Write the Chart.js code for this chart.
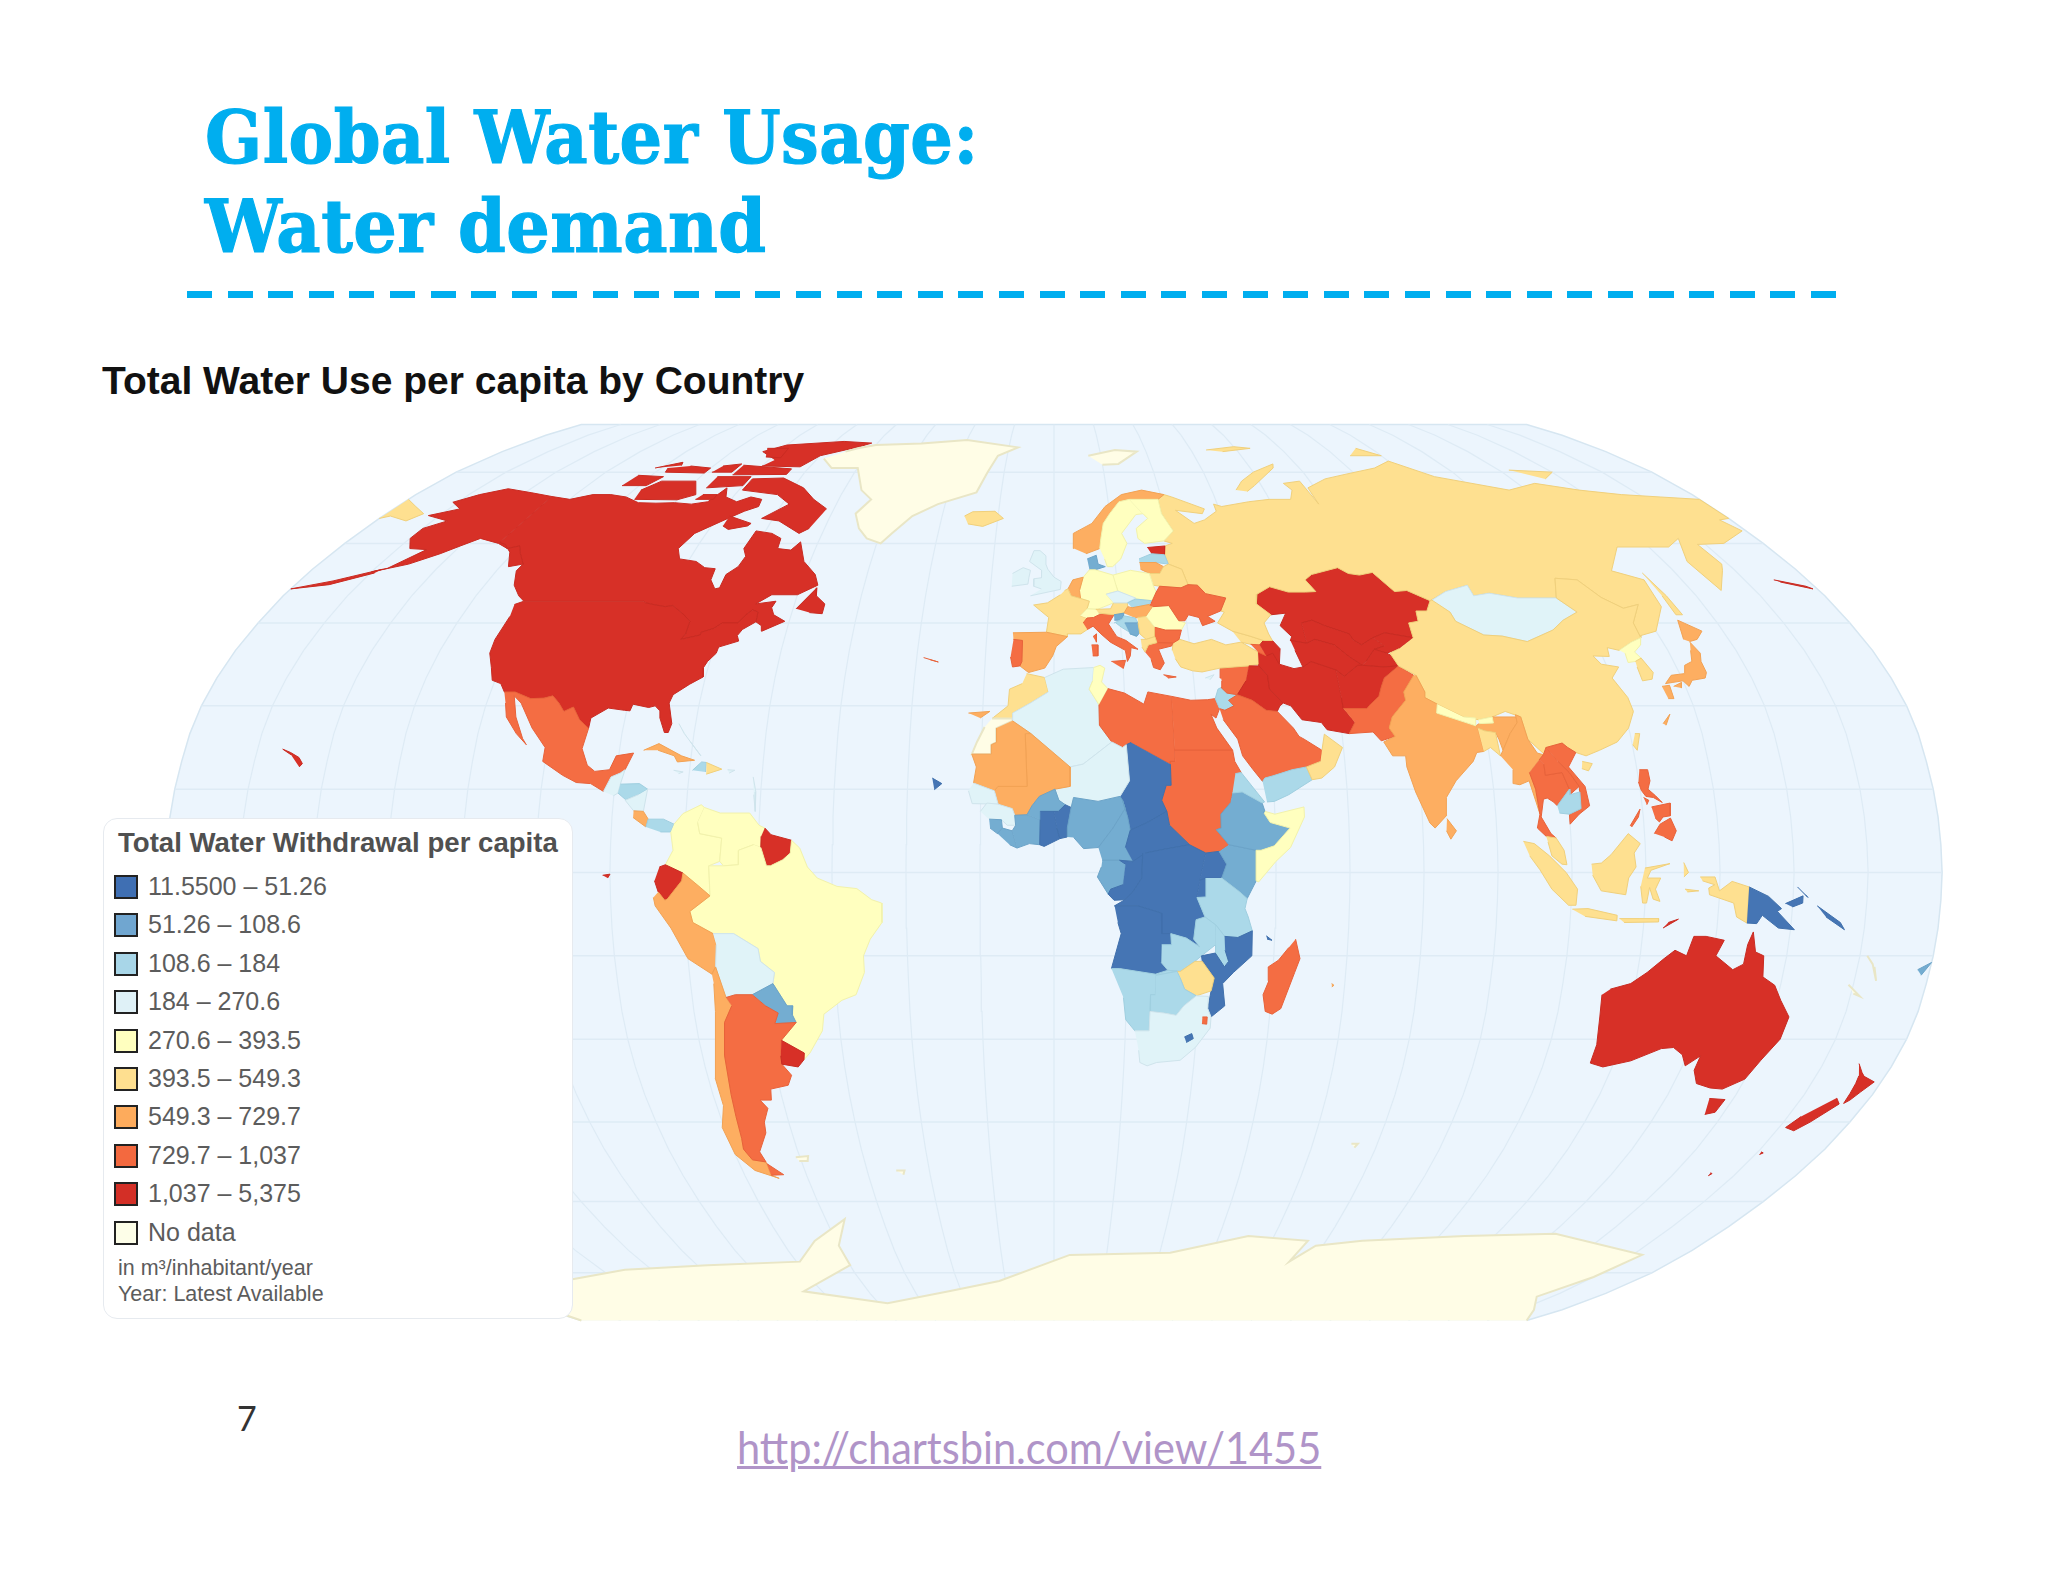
<!DOCTYPE html>
<html><head><meta charset="utf-8"><title>Global Water Usage</title>
<script src="https://cdn.jsdelivr.net/npm/chart.js@4"></script>
<style>
html,body{margin:0;padding:0;background:#fff;width:2048px;height:1582px;overflow:hidden}
.t{position:absolute;white-space:nowrap}
#h1,#h2{left:205px;font:bold 72px "DejaVu Serif";color:#00aeef;letter-spacing:.5px;-webkit-text-stroke:1.2px #00aeef;transform-origin:0 0}
#h1{top:95px;transform:scaleX(.93)}#h2{top:184px;transform:scaleX(.95)}
#dash{position:absolute;left:187px;top:291px;width:1652px;height:7px;background:repeating-linear-gradient(90deg,#00aeef 0 25px,transparent 25px 40.6px)}
#sub{left:102px;top:359px;font:bold 39px "Liberation Sans";color:#111}
#map{position:absolute;left:157px;top:420px}
#legend{position:absolute;left:103px;top:818px;width:470px;height:501px;background:#fff;border:1px solid #e6eaef;border-radius:14px;box-sizing:border-box;font-family:"Liberation Sans"}
#legend .lt{position:absolute;left:14px;top:8px;font:bold 27.6px "Liberation Sans";color:#505050;white-space:nowrap}
#legend .sw{position:absolute;left:10px;width:24px;height:24px;box-sizing:border-box;border:2px solid #222}
#legend .ll{position:absolute;left:44px;font-size:25px;color:#5c5c5c;white-space:nowrap}
#legend .fn{position:absolute;left:14px;font-size:21.5px;color:#5c5c5c;white-space:nowrap}
#page{left:237px;top:1397px;font:34px Lato;color:#333}
#link{left:737px;top:1421px;font:44px Lato;color:#b094c8;text-decoration:underline;text-decoration-thickness:3px;transform-origin:0 0;transform:scaleX(.943)}
</style></head><body>
<div class="t" id="h1">Global Water Usage:</div>
<div class="t" id="h2">Water demand</div>
<div id="dash"></div>
<div class="t" id="sub">Total Water Use per capita by Country</div>
<canvas id="map" width="1794" height="905"></canvas>
<div id="legend"></div>
<div class="t" id="page">7</div>
<div class="t" id="link">http://chartsbin.com/view/1455</div>
<script>
// Legend classes (m3/inhabitant/year)
const legendLabels=["11.5500 – 51.26","51.26 – 108.6","108.6 – 184","184 – 270.6","270.6 – 393.5","393.5 – 549.3","549.3 – 729.7","729.7 – 1,037","1,037 – 5,375","No data"];
const classColors=["#4575b4","#74add1","#abd9e9","#e0f3f8","#ffffbf","#fee090","#fdae61","#f46d43","#d73027","#fffde6"];
const classBorders=["#4070ac","#6ba3c8","#9fcfe0","#cfe4ec","#f2f2ac","#f0d07c","#f2a254","#e8623a","#c92b22","#e9e6c6"];
const legendSwatches=["#3f6fb3","#70a6d0","#a8d6e8","#dff1f7","#ffffbf","#fedf90","#fdab5c","#f3693f","#d32f26","#fdfee8"];
// Lon/lat outlines
const canada=[-123,49,-125,50,-128,52,-130.2,54.7,-130,56,-133,58,-135,59.5,-137.5,59,-141,60.2,-141,69.6,-135,69,-130,70,-125,70,-120,69.5,-115,68.3,-110,68.2,-105,68.3,-100,68,-96,68.5,-94,71.5,-92,69.5,-88,68.5,-85,69.5,-81.5,69,-81,67.5,-84,66.5,-87,65,-93,62,-94.5,59,-92.5,57,-88,56.5,-85,55.3,-82.3,55.1,-82,53,-80,51.3,-79,51.5,-79,54,-77,55.5,-76.5,57.5,-78,59,-77.5,62.5,-73,62,-70,61,-69.5,59,-66,58.7,-64.5,60.3,-61.5,56.5,-57.5,54,-56,52,-60,50.2,-66,50.2,-69,48.5,-64.5,49,-65,47.8,-64,46.5,-61,45.3,-65.5,43.5,-66,44.5,-67.5,45.2,-67.8,47,-69.2,47.4,-70.3,46.5,-71.5,45,-75,45,-76.5,44,-79,43.3,-79,42.8,-83,42,-82.4,43,-82.5,45.3,-84.5,46.5,-88,48.2,-89.6,48,-92,48.3,-94.6,48.7,-95.2,49];
const usa=[-124.7,48.4,-123,49,-95.2,49,-94.6,48.7,-92,48.3,-89.6,48,-88,48.2,-84.5,46.5,-82.5,45.3,-82.4,43,-83,42,-79,42.8,-79,43.3,-76.5,44,-75,45,-71.5,45,-70.3,46.5,-69.2,47.4,-67.8,47,-67.5,45.2,-70,43.8,-70.7,42.7,-70,41.7,-74,40.6,-74.1,39.5,-75.5,38,-76,36.9,-75.5,35.2,-78,33.9,-81,32,-81.4,30.5,-80,26.8,-80.4,25.2,-81.2,25.2,-82.7,27.8,-83,29.1,-84.2,30,-85.5,29.7,-89,30.3,-89.3,29.1,-90.5,29.2,-94,29.6,-97.2,27.8,-97.2,25.95,-99.5,27.5,-101.4,29.8,-103.2,29,-104.7,30.5,-106.5,31.8,-108.2,31.4,-111,31.3,-114.8,32.5,-117.1,32.5,-118.5,34,-120.6,34.6,-122,36.9,-123.8,39.5,-124.3,42,-124,46.2];
const alaska=[-141,69.6,-148,70.4,-156.5,71.3,-162,70,-166.5,68.4,-162,67,-168,65.6,-161,64.5,-165,63,-165,61,-162,59,-157.5,58.8,-162,55.2,-165,54.5,-158,56,-153,58,-150,59.5,-147,61,-141,60,-137.5,59,-135,59.5,-133,58,-130,56,-133,55.5,-136,58.3,-139,59.8,-141,60.2];
const aleutians=[-163,55,-172,52.8,-180,51.3,-172,52.1,-164,54.3];
const aleutiansWest=[172,53,178,51.8,179,51.3,173,52.6];
const hawaii=[-155.5,19,-155,19.6,-156,20.7,-158,21.6,-159.8,22.2,-157.8,21.2];
const newfoundland=[-59.3,47.6,-56,51.5,-55.5,50,-53,48.5,-53,46.7,-56,46.9];
const baffin=[-64,63,-66,62,-73,64.5,-78,65,-73,68,-78,70,-89,71,-89,73.5,-80,73.7,-72,71.5,-67,69,-62,67];
const victoriaIs=[-117,69,-105,68.9,-101,70,-105,73,-115,73,-118,71];
const banksIs=[-125,72,-118,72,-116,74,-124,74.3];
const ellesmere=[-90,76.5,-78,76.3,-75,79,-65,81.5,-62,82.6,-72,83.1,-90,82,-95,80,-88,78];
const axelHeiberg=[-95,81,-88,81,-87,78.5,-92,78.7];
const devonIs=[-96,76.7,-80,75.8,-80,74.5,-96,74.4];
const melvilleIs=[-118,76,-117,75,-105,74.8,-105,76,-112,76.5];
const princePatrick=[-122,76,-116,77.4,-115,76.6];
const bathurstIs=[-103,75,-97,75,-97,77,-102,76.5];
const somersetIs=[-100,71.5,-90,72,-90,74,-100,74];
const kingWilliam=[-100,69,-95,69,-95,70,-99,70];
const southampton=[-87,65.5,-80,64,-80.5,63.5,-85,62.8,-87,63.5];
const greenland=[-73,78.3,-68,76,-60,76,-55,71,-51,69,-53.5,66,-51,63,-48,61,-44,60,-42,62,-38,65.5,-32,68,-22,70.5,-20,75,-18,79,-12,81.3,-30,83.5,-45,82.5,-60,82,-65,81,-68,80];
const iceland=[-24,65.5,-22,66.4,-16,66.5,-13.5,65,-18.7,63.4,-22.7,63.9];
const mexico=[-117.1,32.5,-114.8,32.5,-111,31.3,-108.2,31.4,-106.5,31.8,-104.7,30.5,-103.2,29,-101.4,29.8,-99.5,27.5,-97.2,25.95,-97.8,22.3,-96.2,19.3,-94.5,18.2,-91.5,18.5,-90.5,21,-87,21.5,-88.3,18.5,-89.2,17.9,-91,17.2,-92.2,14.6,-95,16,-98,16.2,-101,17.5,-105.5,20,-105.5,22.5,-109,26,-112.7,30.5,-114.7,31.8,-113,28,-110.5,24.1,-109.5,23,-112,25,-115,28,-116,30.5];
const guatemala=[-92.2,14.6,-91,17.2,-89.2,17.9,-88.3,18.5,-88.9,15.9,-89.2,14.3,-90.1,13.8];
const honduras=[-88.9,15.9,-85,16,-83.2,15,-85,14,-87.5,13.1,-89.2,14.3];
const nicaragua=[-83.2,15,-83.7,11,-85.7,11.1,-87.6,13,-85,14];
const costaRica=[-85.7,11.1,-83.7,11,-82.6,9.6,-83,8.2,-85.7,9.9];
const panama=[-83,8.2,-82.6,9.6,-79.5,9.6,-77.3,8.7,-77.9,7.3,-80,7.3];
const cuba=[-85,22,-82,23.2,-77,21,-74.2,20.2,-77.7,19.9,-78.5,21,-82,22];
const jamaica=[-78.3,18.4,-76.3,18.1,-77.2,17.8];
const bahamas=[-78.5,26.8,-77,25,-73,21,-75.5,23.5];
const puertoRico=[-67.2,18.5,-65.7,18.4,-66.8,17.9];
const lesserAntilles=[-61.8,17.2,-61,14.5,-60.9,11,-61.4,14];
const haiti=[-74.4,18.4,-72.7,19.9,-71.7,19.8,-71.7,18.1];
const dominican=[-71.7,19.8,-68.4,18.6,-71.5,17.7];
const colombia=[-77.3,8.7,-75.6,10.6,-72,12.2,-71.3,11.7,-72.5,9,-72,7,-67.5,6.2,-67.8,2,-70,1.2,-69.8,-4.2,-72,-2.5,-75.2,-0.1,-78.8,1.4,-77.3,4,-77.9,7.3];
const venezuela=[-71.3,11.7,-68,10.7,-62,10.7,-60,8.5,-58.8,8,-59.5,6.5,-59.5,4.5,-61,5,-64,4,-64,1.4,-67,1.2,-67.8,2,-67.5,6.2,-72,7,-72.5,9];
const guyana=[-58.8,8,-57.5,6.8,-53.3,5.8,-53.5,3.5,-55,2.3,-57.5,1.2,-58.3,1.2,-59.5,4.5,-59.5,6.5];
const brazil=[-59.5,4.5,-58.3,1.2,-57.5,1.2,-55,2.3,-53.5,3.5,-53.3,5.8,-51.6,4.4,-50,1,-48,-1,-44,-2.5,-40,-2.9,-37,-4.9,-35,-5.5,-35,-9,-37.5,-12,-39,-15,-39,-18,-41,-22,-44,-23,-48,-25.5,-48.7,-28.5,-52,-32.5,-53.5,-33.7,-53.2,-32.5,-57.6,-30.2,-54,-27,-54.6,-25.6,-54.3,-24,-55.5,-24,-58,-20,-57.5,-18,-60.2,-16,-60.5,-13.7,-65.3,-11,-69.5,-11,-73.5,-9,-74,-7,-69.8,-4.2,-70,1.2,-67,1.2,-64,1.4,-64,4,-61,5];
const ecuador=[-80,1,-78.8,1.4,-75.2,-0.1,-75.5,-1.5,-78.5,-4.8,-79,-5,-80.3,-3.5,-81,-1.5];
const peru=[-80.3,-3.5,-79,-5,-78.5,-4.8,-75.5,-1.5,-75.2,-0.1,-72,-2.5,-69.8,-4.2,-74,-7,-73.5,-9,-69.5,-11,-69,-13,-69.5,-17,-70.4,-18.3,-75,-15.5,-78,-10,-81,-6,-81.3,-4.5];
const bolivia=[-69.5,-11,-65.3,-11,-60.5,-13.7,-60.2,-16,-57.5,-18,-58,-20,-62.5,-22,-66,-22,-68,-22.5,-69.5,-17,-69,-13];
const paraguay=[-62.5,-22,-58,-20,-55.5,-24,-54.3,-24,-54.6,-25.6,-54,-27,-58.5,-27.2,-57.5,-25.3,-60,-24];
const chile=[-70.4,-18.3,-69.5,-17,-68,-22.5,-67,-24,-69,-27,-70.3,-33,-71,-40,-71.5,-44,-72,-48,-72.5,-50,-71.5,-52,-68.5,-52.4,-68.6,-54.9,-67,-55.5,-72,-54,-75,-51,-75.5,-46,-73.5,-42,-73.5,-37,-71.5,-30,-70.5,-25,-70.2,-20];
const argentina=[-68,-22.5,-66,-22,-62.5,-22,-60,-24,-57.5,-25.3,-58.5,-27.2,-54,-27,-57.6,-30.2,-58.3,-33,-58.4,-34.5,-56.8,-36.5,-58,-38.3,-62,-39,-62.5,-41,-65,-41,-63.8,-42.5,-65.5,-45,-66,-47,-69,-50.5,-68.5,-52.4,-71.5,-52,-72.5,-50,-72,-48,-71.5,-44,-71,-40,-70.3,-33,-69,-27,-67,-24];
const tierraDelFuego=[-68.5,-52.7,-65.5,-54.8,-68.6,-54.9];
const uruguay=[-57.6,-30.2,-53.2,-32.5,-53.5,-33.7,-55,-35,-58.4,-34.5,-58.3,-33];
const falklands=[-61,-51.5,-58,-51.3,-58.5,-52.2,-60.5,-52.2];
const southGeorgia=[-38,-54,-36,-54,-36.5,-54.8];
const galapagos=[-91.5,-0.5,-90,-0.3,-90.5,-1];
const morocco=[-5.9,35.8,-2,35.1,-1.2,32.5,-5,30.5,-8.7,28.7,-8.7,27.7,-13,27.7,-9.7,30,-9.5,33,-6.8,34];
const westSahara=[-13,27.7,-8.7,27.7,-8.7,27.3,-12,26,-12,23.4,-13,23,-13,21.3,-17,21.3,-16,23.5,-14.5,26.2];
const algeria=[-2,35.1,2,36.6,8.6,36.9,8.3,34.5,7.5,33,9.5,30.2,9.5,26.5,12,23.5,6,19.5,3.3,19,-4.8,25,-8.7,27.3,-8.7,28.7,-5,30.5,-1.2,32.5];
const tunisia=[8.6,36.9,10,37.3,11,36.8,10.2,34.3,11.5,33.1,9.5,30.2,7.5,33,8.3,34.5];
const libya=[11.5,33.1,15,32.3,19,30.3,20,32.5,25,31.7,25,20,24,20,24,19.5,16,23.4,14.2,22.5,12,23.5,9.5,26.5,9.5,30.2];
const egypt=[25,31.7,29,31,32.5,31.1,34.2,31.3,34.9,29.5,34,27.8,33,28.5,34,26,37,22,25,22];
const sudan=[25,22,37,22,37.3,20,38.5,18,36.5,14.3,36,12.5,34,10.5,34,8,33,7.7,35.5,5,33.5,3.8,30.8,3.5,27.5,5,23.5,8.5,23,11,22,13,23,15.7,24,15.7,24,19.5,24,20,25,20];
const chad=[24,19.5,24,15.7,23,15.7,22,13,23,11,19,9,15.5,7.6,15,10,14,13,13.5,13.7,15.5,16.5,15,23,16,23.4];
const niger=[3.3,19,6,19.5,12,23.5,14.2,22.5,15,23,15.5,16.5,13.5,13.7,9,12.8,4,13.5,3.5,11.7,2.3,12.2,1,13,0.2,15,3.3,15.5];
const mali=[-4.8,25,3.3,19,3.3,15.5,0.2,15,-3,13.7,-4.5,12,-5.5,10.4,-8,10.3,-8.5,11.5,-11.4,12.3,-12.2,14.7,-11.5,15.5,-5.5,15.5,-6,25];
const mauritania=[-8.7,27.3,-4.8,25,-6,25,-5.5,15.5,-11.5,15.5,-12.2,14.7,-16.5,16.1,-16,19,-17,21.3,-13,21.3,-13,23,-12,23.4,-12,26];
const senegal=[-16.5,16.1,-12.2,14.7,-11.4,12.3,-16.7,12.4,-17.5,14.7];
const guinea=[-15,11,-13.7,12.5,-11.4,12.3,-8.5,11.5,-8,10.3,-7.8,8.5,-9.5,8.5,-10.7,9.5,-13.2,9.6];
const sierraLeone=[-13.2,9.6,-10.7,9.5,-10.5,8,-11.5,7,-13,8];
const liberia=[-11.5,7,-10.5,8,-8.5,7.5,-7.5,4.4,-9,5];
const coteDIvoire=[-8.5,7.5,-7.8,8.5,-8,10.3,-5.5,10.4,-2.8,9.5,-2.9,5,-5,5.2,-7.5,4.4];
const burkina=[-5.5,10.4,-4.5,12,-3,13.7,0.2,15,1,13,2.3,12.2,0.9,11,-2.8,11,-2.8,9.5];
const ghana=[-2.8,11,0,11,0.6,8,1.2,6.1,-2,4.7,-2.9,5,-2.8,9.5];
const togoBenin=[0,11,0.9,11,2.3,12.2,3.5,11.7,2.7,8,2.7,6.4,1.2,6.1,0.6,8];
const nigeria=[2.7,6.4,2.7,8,3.5,11.7,4,13.5,9,12.8,13.5,13.7,14,13,14.5,11.5,12,8,9,4.5,6,4.3,4,6.3];
const cameroon=[9,4.5,12,8,14.5,11.5,14,13,15,10,15.5,7.6,14.5,4.5,16,2,13.3,2.2,9.8,2.2];
const gabon=[9.8,2.2,13.3,2.2,14.5,1.5,14,-2.2,11.5,-3,11,-3.9,8.8,-0.8,9.6,1];
const congo=[14.5,1.5,13.3,2.2,16,2,18,3.5,17.8,-1,16,-3.5,14.4,-4.9,12.2,-5,11,-3.9,11.5,-3,14,-2.2];
const car=[14.5,4.5,15.5,7.6,19,9,23,11,23.5,8.5,27.5,5,22.5,4.2,18.5,3.5,16,2];
const drc=[18.5,3.5,22.5,4.2,27.5,5,30.8,3.5,29.6,-1.4,29,-4.5,30.7,-8,28.9,-8.5,28.5,-12,29.8,-13.4,27,-11.8,23.8,-11,22,-11,21.8,-7.3,17,-6,12.3,-6,14.4,-4.9,16,-3.5,17.8,-1,18,3.5];
const uganda=[30.8,3.5,33.5,3.8,35,1.5,34,-1,30.8,-1,29.6,-1.4];
const rwandaBurundi=[29.6,-1.4,30.8,-1,30.8,-4.4,29,-4.5];
const kenya=[35.5,5,41,4,41,-1.5,39.2,-4.7,37.7,-3.5,34,-1,35,1.5,33.5,3.8];
const tanzania=[34,-1,37.7,-3.5,39.2,-4.7,38.8,-6.5,39.5,-8,40.4,-10.5,37.5,-11.7,34.8,-11.5,33,-9.5,30.7,-8,29,-4.5,30.8,-4.4,30.8,-1];
const ethiopia=[36.5,14.3,38.5,14.5,42.5,12.5,43,11,42.8,10.7,44,9,48,8,44.7,4.8,42,4,41,4,35.5,5,33,7.7,34,8,34,10.5,36,12.5];
const eritrea=[37.3,17.8,38.5,18,43,12.7,42.5,12.5,38.5,14.5,36.5,14.3];
const somalia=[43,11,45,10.5,51,11.8,51,10,48,4.5,45,2,41.5,-1.7,41,-1.5,41,4,42,4,44.7,4.8,48,8,44,9,42.8,10.7];
const angola=[12.3,-6,17,-6,21.8,-7.3,22,-11,23.8,-11,24,-13,22,-13,22,-16.2,23.4,-17.6,20.9,-18.3,13.5,-17.3,11.8,-17.3,13.7,-11,13,-9];
const zambia=[22,-13,24,-13,23.8,-11,27,-11.8,29.8,-13.4,28.5,-12,28.9,-8.5,30.7,-8,33,-9.5,33,-13,30.2,-15,28.9,-16,26,-17.8,23.4,-17.6,22,-16.2];
const malawi=[33,-9.5,34.8,-11.5,35,-14,35.8,-16,35,-17,33,-14.5,33,-13];
const mozambique=[34.8,-11.5,37.5,-11.7,40.4,-10.5,40.5,-15,36.9,-18,34.8,-20,35.5,-24,32.8,-26,32,-24.5,32.5,-21.3,33,-19,30.4,-16,30.2,-15,33,-14.5,35,-17,35.8,-16,35,-14];
const zimbabwe=[25.3,-17.8,26,-17.8,28.9,-16,30.4,-16,33,-19,32.5,-21.3,29.5,-22.2,27,-21,26,-19];
const namibia=[11.8,-17.3,13.5,-17.3,20.9,-18.3,23.4,-17.6,25.3,-17.8,21,-18.5,21,-22,20,-22,20,-28.5,17,-28.5,15,-26.5,14.4,-22.5];
const botswana=[21,-18.5,25.3,-17.8,26,-19,27,-21,29.5,-22.2,27,-24,25.5,-25.7,23,-25.3,20,-25,20,-22,21,-22];
const southAfrica=[17,-28.5,20,-28.5,20,-25,23,-25.3,25.5,-25.7,27,-24,29.5,-22.2,32,-22.3,32,-24.5,32.8,-26,32.8,-28,30,-31.5,27,-33.8,22,-34.2,20,-34.8,18.4,-34.2,18,-32];
const lesotho=[27.5,-29.6,29,-29,29.4,-29.9,28,-30.6];
const swaziland=[31,-26,32,-26,32,-27.3,31,-27.2];
const madagascar=[49.3,-12,50.4,-15.5,49.5,-18,47.2,-24.5,45.5,-25.5,44,-25,43.3,-22,44.3,-19.5,44,-17,46,-15.8,48,-13.5];
const israelJordan=[34.9,29.5,34.2,31.3,35,33,35.7,33.3,36.8,32.3,39,32,37,31,38,30,36,29.2];
const syria=[35.9,35,36,36.8,42.3,37.2,41.2,34.5,39,32,36.8,32.3,35.7,33.3,36,34.5];
const turkey=[26,40,26.5,41.8,28,42,31,41.2,35,42,38,41,41.5,41.5,44.8,39.7,44.5,37.5,42.3,37.2,36,36.8,32,36.1,30,36.3,27.5,37,26.5,38.5];
const iraq=[42.3,37.2,44.5,37.2,46,35.5,46,33,48.5,30.5,47.7,30,47,29,44.7,29.2,42,31,39,32,41.2,34.5];
const iran=[44.8,39.7,48,39.5,49,37.5,52,36.7,54,37,56,38,61,36.5,61,31.5,61,29.5,63,27,61.5,25,57,25.7,56,27,52,27.5,50,30,48.5,30.5,46,33,46,35.5,44.5,37.2,44.5,37.5];
const saudi=[34.9,29.5,36,29.2,38,30,37,31,39,32,42,31,44.7,29.2,47,29,48,28,50,26,51,24.5,52,24,55.5,22,55,20,52,19,49,18.5,45,17.4,43.3,17,42.8,16.4,41,18.5,39,21,38.2,24,35.5,27.5];
const yemen=[42.8,16.4,43.3,17,45,17.4,49,18.5,52,19,53,16.7,48,14,45,12.8,43.5,12.7];
const oman=[55.5,22,56.3,24.9,59.8,22.5,57.8,19,55,17,53,16.7,52,19,55,20];
const georgia=[40,43.5,43.7,42.6,46.5,41.8,45.5,41,43.5,41.1,41.5,41.5];
const armenia=[43.5,41.1,45.5,41,46.5,39,44.8,39.7];
const azerbaijan=[45.5,41,46.5,41.8,48.5,41.8,49.8,40.3,49,37.5,48,39.5,46.5,39];
const kazakhstan=[46.8,48.5,47.5,50.3,51,51.7,55,50.7,59,50.7,61.5,50.8,60,53,62,54,69,55.3,71,54.2,73.5,53.9,76.9,54.4,80,50.8,83,51,87.3,49.1,85.5,47.2,83,47.2,82.5,45.3,80.2,45,80,42.3,74,43.2,71,42.3,68,41,66.5,41.9,66,43,61,44.5,58.5,45.5,56,45,56,41.3,52.5,41.8,53,42.5,51,44.5,53,46.8,49.5,46.5];
const uzbekistan=[56,45,58.5,45.5,61,44.5,66,43,66.5,41.9,68,41,71,42.3,73,40.8,70.5,40.2,68,38,67,37.3,64.5,38.9,62,41,58,42,56,41.3];
const turkmenistan=[52.5,41.8,56,41.3,58,42,62,41,64.5,38.9,67,37.3,66,37.3,62.5,35.3,61,36.5,56,38,54,37,53,40];
const kyrgyzstan=[71,42.3,74,43.2,80,42.3,76,40.3,73,39.5,70.5,40.2,73,40.8];
const tajikistan=[68,38,70.5,40.2,73,39.5,75,38.5,74.8,37.2,71.5,37,67,37.3];
const afghanistan=[61,36.5,62.5,35.3,66,37.3,67,37.3,71.5,37,74.8,37.2,71,35,70,33.5,69,31.7,66.5,30,66,29.5,61,29.5,61,31.5];
const pakistan=[61,29.5,66,29.5,66.5,30,69,31.7,70,33.5,71,35,74.8,37.2,77.5,35.5,74.5,32.5,74.5,31,71,28,70,26,71,24.5,68,23.7,66.5,25.3,61.5,25,63,27];
const russia=[28,59.5,30,60,28,60.5,31,62.5,29,66,29,69,31,70,33,69.5,41,67,40,66,35,66.5,33,66.7,37,64,40,64.7,44,66.5,44,68,46,67.5,54,68.5,60,69,66,69,68,71,66.8,72.5,72,73,73,68,73,71.5,80,73.5,87,74.5,98,76,105,77.7,113,74,130,71,140,72.5,150,71,160,70,170,69.5,180,69,180,65,177,64.7,179,62.5,170,60,163,59.8,163.5,56,162,54.8,157,51,155.7,56.5,160,61,155,59.3,142,59.3,135,54.7,141,53,140,48,135,43.5,131,42.7,130.7,42.3,131,45,135,48.4,131,47.7,127.5,49.7,125,53,120,53.3,117,49.6,113,49.6,108,49.6,102,50.5,98,50,98,52,92,50.8,87.3,49.1,83,51,80,50.8,76.9,54.4,73.5,53.9,71,54.2,69,55.3,62,54,60,53,61.5,50.8,59,50.7,55,50.7,51,51.7,47.5,50.3,46.8,48.5,49.5,46.5,47.5,45,48,43,48.5,41.8,46.5,41.8,43.7,42.6,40,43.5,37,45,39,47,38.2,47.2,40,49.6,35.5,50.4,34,52,31.8,52.1,31,55,28,56,27.5,57.8];
const chukotka=[-180,69,-175,67.5,-170,66,-172,64.5,-178,65.5,-180,65];
const novayaZemlya=[52,71,55,73,60,75,68,77,67,76,58,72,55,70.7];
const sakhalin=[142,54.3,143,50,143.5,46.5,142,46.5,142,50];
const franzJosef=[50,80.5,60,81.5,65,81,55,80];
const severnaya=[95,79,105,79,100,81];
const newSiberian=[138,75.5,150,75,145,73.5];
const svalbard=[11,79,20,80.5,27,80,20,77,15,76.8];
const mongolia=[87.8,49.2,92,50.8,98,52,98,50,102,50.5,108,49.6,113,49.6,117,49.6,119.8,47,115.5,45.5,112,43.7,105,41.6,100,42.6,96,42.8,91,45.3,90.7,47];
const china=[80,42.3,80.2,45,82.5,45.3,83,47.2,85.5,47.2,87.3,49.1,87.8,49.2,90.7,47,91,45.3,96,42.8,100,42.6,105,41.6,112,43.7,115.5,45.5,119.8,47,117,49.6,120,53.3,125,53,127.5,49.7,131,47.7,135,48.4,131,45,130.7,42.3,128,41.5,124.3,40,122,40.5,121.5,38.9,118,39,119,37.5,122.5,37,120,35,121.8,31.5,122,29,120,26,117,23.5,113,22,110,21,108,21.6,106.5,22.5,105.5,23.3,102,22.5,101.5,21.2,98.5,24,98,28,95,29,92,28,89,27.5,86,28,81,30.3,78.7,31.5,79,32.5,78,35.5,74.8,37.2,73.7,39.5,76,40.3];
const hainan=[109,20,111,19.6,110,18.3,108.7,18.7];
const taiwan=[121,25,122,25,120.8,22,120.1,23];
const ryukyu=[127.5,26.8,129.5,28.5,128,26.5];
const northKorea=[124.3,40,128,41.5,130.7,42.3,129.7,41,127.5,39.7,128.3,38.6,126.7,38,125,37.8,125.3,39.5];
const southKorea=[126.7,38,128.3,38.6,129.4,36,128.5,34.8,126.3,34.5,126.5,37];
const honshu=[141,41.5,141.8,39.5,141,38,140.9,36,140,35,137,34.6,135.8,33.5,135,34.5,132.5,34.2,131,34,133,35.5,136,35.8,137,37.3,139,38,140,40];
const hokkaido=[140,42,141.5,45.5,145.3,43.5,143,42,141,41.6];
const kyushu=[130,33.5,131.7,33.7,131.5,31.3,130.3,31.3];
const shikoku=[132.5,33.5,134.5,34.2,134,33.2];
const india=[77.5,35.5,74.5,32.5,74.5,31,71,28,70,26,71,24.5,68.5,23.5,70,21,72.7,21,72.7,19,74,14.5,76.5,8.9,77.5,8,80,10.3,80.2,13.5,82.5,16.5,86.5,20,87.5,21.6,89,21.8,88.5,26,88.2,26.4,80.5,28.7,81,30.3,78.7,31.5,79,32.5,78,35.5];
const indiaEast=[88.2,26.4,89,26.8,92,26.9,92,28,97,28,97,27,95,25,94,23.5,93,22,92.5,24,92,25.2,89.8,25.5,88.5,26];
const nepal=[81,30.3,80.5,28.7,88.2,26.4,88.5,27.8,86,28];
const bhutan=[89,27.5,92,28,92,26.9,89,26.8];
const bangladesh=[88.5,26,89.8,25.5,92,25.2,92.3,21,90.5,22.5,89,21.8];
const sriLanka=[80,9.7,81.8,7.5,80.6,6,79.8,7.5];
const burma=[92.3,21,93,22,94,23.5,95,25,97,27,97,28.4,98,28,98.5,24,100,21.5,101.2,21.2,100.2,20.3,97.8,18,98.6,15,99,10.5,98.5,12.5,97.5,16.5,95.5,15.8,94.3,16,94.5,18.5];
const thailand=[100.2,20.3,101,19.5,101,17.5,104.5,18,105.5,15,102.7,12,102,12.7,100.8,13.4,100,13.2,99.2,10,101,7,102,6.2,100,6.5,98.3,8,99,10.5,98.6,15,97.8,18];
const laos=[100.2,20.3,101.2,21.2,102,22.5,104,20,106,18,107.6,15.5,105.5,14,105.5,15,104.5,18,101,17.5,101,19.5];
const vietnam=[102,22.5,105.5,23.3,106.5,22.5,108,21.6,106,19,108.8,15.5,109.3,12,107,10.5,105,8.7,105,10.5,107.5,11.5,107.6,15.5,106,18,104,20];
const cambodia=[102.7,12,105.5,15,105.5,14,107.6,14.5,107.5,11.5,105,10.5,103,10.7];
const malaya=[100,6.5,102,6.2,103.5,4,104,1.4,103,1.5,101,3,100.3,5.5];
const sumatra=[95.3,5.6,97.5,5.2,100.5,3,103.8,0,106.2,-3,106,-5.9,104.5,-5.9,101,-3,98.5,0.5,96.5,3];
const java=[105.3,-6.6,108.5,-6.5,114.5,-7.7,114.5,-8.7,108,-7.9];
const sundas=[115,-8.3,119,-8.3,123,-8.3,123,-8.9,116,-9];
const borneo=[109,1.5,111,1.7,113,3.2,116.7,7,119,5.2,117.7,3.5,118,1,116.5,-1,116,-4,111,-3.3,109.2,-0.5];
const sulawesi=[119.8,0.8,124.9,1.6,121,0.4,120.3,-1,123,-1,122,-3,123,-5.2,121.6,-4.8,120.8,-2.7,120.3,-5.5,119.5,-5.5,119,-2.5];
const halmahera=[127.7,1.8,128.6,0,127.7,-0.8];
const ceram=[128,-3,130.8,-3.3,128.5,-3.5];
const papua=[131,-0.8,134,-0.8,135,-3.3,137.5,-1.6,141,-2.6,141,-9.1,138.8,-8,138,-5.5,133,-4,132.8,-2.8,134,-2.2,131.5,-1.5];
const png=[141,-2.6,145,-4.3,147.8,-6.5,147,-7,150.8,-10.3,147.5,-10,144,-7.7,143,-9.2,141,-9.1];
const newBritain=[148.5,-5.6,152,-4.2,152,-5.5,150,-6.2];
const newIreland=[150.8,-2.6,153,-4.5,152.5,-4];
const solomons=[155,-6,160,-9,161,-10.3,157,-8];
const timor=[124,-10,127,-8.4,125,-9];
const luzon=[120.5,18.5,122.2,18.5,122.3,16.5,121.6,15,123,13.8,124.2,12.6,122.5,13.5,121,13.7,120.2,14.8,119.9,16.3];
const mindoro=[120.5,13.5,121.5,13,121,12.2];
const mindanao=[122,7,123.3,8.7,125.5,9.8,126.5,7.5,125.5,5.7,124,6.4];
const visayas=[121.9,11.8,125.8,12.5,125.5,10.2,124,10,123.2,9.1,122.4,9.8];
const palawan=[117.2,8.4,119.5,11.4,119,10,117.5,8.2];
const australia=[113.5,-22,114,-26,115,-31,115,-34.3,118,-35,123.5,-33.9,129,-31.7,131.5,-31.5,134,-32.8,135.6,-34.8,138,-33,138,-35.6,140,-38,143.5,-38.8,146.3,-39,150,-37.2,151.3,-33.8,153.3,-30,153.5,-26,150.8,-23,148.8,-20.3,146,-18.8,145.3,-15,143.5,-14.3,142.5,-10.7,141.7,-13,141.5,-16.5,139.5,-17.5,135.5,-15,136.8,-12.2,133,-11.5,130.5,-11.5,129.5,-15,127,-14,125,-15.5,122,-18,119,-20,115,-21];
const tasmania=[144.7,-40.7,148.3,-40.9,148,-43.2,146,-43.6];
const nzNorth=[172.7,-34.4,174.5,-36,175.5,-36.7,178.5,-37.7,177,-39.5,176,-41,175.2,-41.6,174.9,-39.8,174.7,-38,174.3,-36.6];
const nzSouth=[172.7,-40.6,174.3,-41.7,171,-45,169,-46.6,166.5,-46,168,-44];
const macquarie=[158.7,-54.4,159.2,-54.6,158.8,-55];
const aucklandIs=[165.8,-50.5,166.5,-50.7,166,-51];
const norway=[5,59,5,62,10,64,14,67.5,19,70,25,71,31,70,29,69,25.5,69,21,69,18,68.5,15,66,13,64,12,61,11.5,59,8,58];
const sweden=[11.5,59,12,61,13,64,15,66,18,68.5,21,69,24,66,22,65.8,17.5,62,18.5,60,16.5,57,14.3,55.5,13,55.5,12.5,57];
const finland=[21,69,25.5,69,29,69,29,66,31,62.5,28,60.5,23,60,21.5,61,21.5,63,25,65,24,66];
const denmark=[8.2,57,10.5,57.7,10.8,56,12.5,55.5,10,54.9,8.6,54.9];
const estonia=[23.5,59.2,28,59.5,27.5,57.8,24.3,58];
const latvia=[21,57,24.3,58,27.5,57.8,28,56,25,56.3,21,56.3];
const lithuania=[21,56.3,25,56.3,26.7,55.5,25.5,54.2,23,54.2,21,55];
const belarus=[23,54.2,25.5,54.2,26.7,55.5,28,56,31,55,31.8,52.1,30,51.5,25,51.8,23.5,52];
const poland=[14.2,53.9,18.5,54.8,23,54.2,23.5,52,24,50.7,22.7,49.1,19,49.4,15,50.9,14.7,52];
const germany=[6,51,7,53.5,8.6,54.9,10,54.9,14.2,53.9,14.7,52,15,50.9,12.2,50.3,13.8,48.7,10,47.5,7.6,47.6,8.2,49,6.2,49.5];
const benelux=[3.3,51.3,4.5,53,7,53.5,6,51,6.2,49.5,4,50];
const france=[2.5,51,3.3,51.3,4,50,6.2,49.5,8.2,49,7.6,47.6,6,46.3,7.5,45.9,7.5,43.8,6,43,3,43,3,42.5,-1.7,43.3,-1.2,46,-4.7,48.3,-1.5,48.7,1.5,50.2];
const britain=[-5.5,50,1.5,51.2,1.7,52.7,0,53.5,-1.5,55,-2,56,-2,57.6,-3.5,58.6,-5,58.6,-6,56.5,-3,54.8,-3,53.4,-4.8,53.2,-4.8,51.8,-3,51.3];
const ireland=[-10,51.8,-6.2,52.2,-6,53.5,-5.7,54.8,-7.5,55.3,-10,54.2];
const spain=[-9.2,43.2,-1.7,43.3,3,42.5,0.5,40.7,-0.3,39,-2,36.8,-5.5,36,-7.4,37.2,-7,38,-7,41.8,-9,42];
const portugal=[-9,42,-7,41.8,-7,38,-7.4,37.2,-9,37,-9.5,38.8];
const switzerland=[6,46.3,7.6,47.6,10,47.5,10.3,46.5,9,46,7.5,45.9];
const italy=[6.6,45,7.5,45.9,9,46,10.3,46.5,12.5,47,13.7,46.5,12.3,44.8,14,42.5,16,41.8,18.5,40.2,17,40.5,16.7,39,16,38,15.7,40,12.5,41.5,10.5,43,8.8,44.4,7.5,43.8];
const sicily=[12.5,38,15.6,38.2,15,36.7];
const sardinia=[8.3,41,9.7,41,9.6,39,8.5,39];
const corsica=[8.7,42.5,9.5,43,9.4,41.5];
const austria=[9.6,47.5,13,47.6,13.8,48.7,17,48.7,17,47,13.7,46.5,10.3,46.8];
const czech=[12.2,50.3,15,50.9,19,49.6,17,48.7,13.8,48.7];
const slovakia=[17,48.7,19,49.4,22.7,49.1,22,48.4,18,47.8];
const hungary=[16,46.8,17,48,18,47.8,22,48.4,22.8,48,21,46.2,18.5,45.9];
const slovenia=[13.7,46.5,16,46.8,15.5,45.5,13.7,45.5];
const croatia=[13.6,45,15.5,45.7,16,46.3,18.5,45.9,19,45,16,45,17,43,18.5,42.5,15.2,44.2,14,45];
const bosnia=[16,45,19,45,19.5,43.5,18.5,42.6,17,43];
const serbia=[19,46,21,46.2,22.7,44.2,22.5,42.5,20.5,42,19.2,43,19,45];
const romania=[22.8,48,26.5,48.2,28.3,45.4,29.7,45,28.6,43.7,25,43.7,22.7,44.2,21,46.2];
const bulgaria=[22.7,44.2,25,43.7,28.6,43.7,27.8,42,26.3,41.3,22.8,41.4,22.5,42.5];
const greece=[20,39.7,20.9,41,22.8,41.4,26.3,41.3,26,40.8,23,40.2,24,37.7,23,36.5,21.6,36.9,21.2,38.4];
const crete=[23.6,35.6,26.3,35.2,24.5,35];
const albaniaMacedonia=[19.3,42,20.5,42,22.5,42.5,22.8,41.4,20.9,41,20,39.7,19.4,40.6];
const ukraine=[22.2,48.2,24,50.7,25,51.8,30,51.5,31.8,52.1,34,52,35.5,50.4,40,49.6,38.2,47.2,35,46.2,36.5,45.3,33.5,44.5,33,46,30.7,46.5,29.7,45.4,28.3,45.4,26.5,48.2,22.8,48];
const cyprus=[32.5,35,34.5,35.6,33.5,34.7];
const canaries=[-18,28.7,-13.5,29,-15.5,27.8];
const azores=[-28.5,38.7,-25.2,37.9,-27,38.3];
const capeVerde=[-25,17,-23,16,-24.5,14.9];
const comoros=[43.3,-11.4,44.5,-12.2,43.5,-12];
const mauritius=[57.3,-20,57.8,-20.3,57.4,-20.6];
const kerguelen=[69,-49,70.5,-49,70,-49.7];
const fiji=[177.5,-17.5,180,-16.2,178.5,-18.5];
const newCaledonia=[164,-20.2,167,-22.3,165.5,-21.8];
const vanuatu=[166.5,-15,168,-16.5,169.5,-19.5,168.5,-17];
const antarctica=[-180,-90,-180,-80,-148,-76.5,-128,-74.3,-102,-73.3,-74,-72.5,-66,-68,-55,-63.5,-60,-69,-60,-73.3,-81,-79.5,-57,-83,-34,-79.5,-17,-77,4.5,-71,33,-70.5,53,-67,70,-68,68.5,-72.5,73,-69,85,-68,112,-67,136,-66.5,168,-71,165,-76,160,-81,170,-85,180,-90];
// Robinson projection table and graticule
const robLat=[0,5,10,15,20,25,30,35,40,45,50,55,60,65,70,75,80,85,90];
const robLen=[1,.9986,.9954,.99,.9822,.973,.96,.9427,.9216,.8962,.8679,.835,.7986,.7597,.7186,.6732,.6213,.5722,.5322];
const robDep=[0,.062,.124,.186,.248,.31,.372,.434,.4958,.5571,.6176,.6769,.7346,.7903,.8435,.8936,.9394,.9761,1];
const parallels=[-75,-60,-45,-30,-15,0,15,30,45,60,75];
const meridians=[-165,-150,-135,-120,-105,-90,-75,-60,-45,-30,-15,0,15,30,45,60,75,90,105,120,135,150,165];

// Class index for every shape; 0-8 follow the legend, 9 is no data
const shapeClasses=[
[canada,8],[usa,8],[alaska,8],[aleutians,8],[aleutiansWest,8],[hawaii,8],[newfoundland,8],[baffin,8],[victoriaIs,8],[banksIs,8],[ellesmere,8],[axelHeiberg,8],[devonIs,8],[melvilleIs,8],[princePatrick,8],[bathurstIs,8],[somersetIs,8],[kingWilliam,8],[southampton,8],
[greenland,9],[iceland,5],[mexico,7],[guatemala,3],[honduras,2],[nicaragua,3],[costaRica,6],[panama,2],[cuba,6],[jamaica,3],[bahamas,3],[puertoRico,3],[lesserAntilles,3],[haiti,2],[dominican,5],
[colombia,4],[venezuela,4],[guyana,8],[brazil,4],[ecuador,8],[peru,6],[bolivia,3],[paraguay,1],[chile,6],[argentina,7],[tierraDelFuego,7],[uruguay,8],[falklands,9],[southGeorgia,9],[galapagos,8],
[morocco,5],[westSahara,9],[algeria,3],[tunisia,4],[libya,7],[egypt,7],[sudan,7],[chad,0],[niger,3],[mali,6],[mauritania,6],[senegal,3],[guinea,3],[sierraLeone,1],[liberia,1],[coteDIvoire,1],[burkina,1],[ghana,0],[togoBenin,0],[nigeria,1],[cameroon,1],[gabon,1],[congo,0],[car,0],[drc,0],[uganda,0],[rwandaBurundi,0],[kenya,1],[tanzania,2],[ethiopia,1],[eritrea,2],[somalia,4],[angola,0],[zambia,2],[malawi,2],[mozambique,0],[zimbabwe,5],[namibia,2],[botswana,2],[southAfrica,3],[lesotho,0],[swaziland,7],[madagascar,7],
[israelJordan,2],[syria,7],[turkey,5],[iraq,8],[iran,8],[saudi,7],[yemen,2],[oman,5],[georgia,5],[armenia,7],[azerbaijan,8],[kazakhstan,8],[uzbekistan,8],[turkmenistan,8],[kyrgyzstan,8],[tajikistan,8],[afghanistan,8],[pakistan,7],
[russia,5],[chukotka,5],[novayaZemlya,5],[sakhalin,5],[franzJosef,5],[severnaya,5],[newSiberian,5],[svalbard,9],[mongolia,3],[china,5],[hainan,5],[taiwan,5],[ryukyu,6],[northKorea,4],[southKorea,5],[honshu,6],[hokkaido,6],[kyushu,6],[shikoku,6],
[india,6],[indiaEast,6],[nepal,4],[bhutan,4],[bangladesh,5],[sriLanka,6],[burma,6],[thailand,7],[laos,7],[vietnam,7],[cambodia,2],[malaya,5],[sumatra,5],[java,5],[sundas,5],[borneo,5],[sulawesi,5],[halmahera,5],[ceram,5],[papua,5],[png,0],[newBritain,0],[newIreland,0],[solomons,0],[timor,8],[luzon,7],[mindoro,7],[mindanao,7],[visayas,7],[palawan,7],
[australia,8],[tasmania,8],[nzNorth,8],[nzSouth,8],[macquarie,8],[aucklandIs,8],
[norway,6],[sweden,4],[finland,4],[denmark,1],[estonia,8],[latvia,2],[lithuania,6],[belarus,5],[poland,4],[germany,4],[benelux,6],[france,5],[britain,3],[ireland,3],[spain,6],[portugal,7],[switzerland,4],[italy,7],[sicily,7],[sardinia,7],[corsica,7],[austria,5],[czech,3],[slovakia,2],[hungary,6],[slovenia,1],[croatia,2],[bosnia,1],[serbia,5],[romania,4],[bulgaria,7],[greece,7],[crete,7],[albaniaMacedonia,5],[ukraine,7],[cyprus,3],
[canaries,6],[azores,7],[capeVerde,0],[comoros,0],[mauritius,6],[kerguelen,9],[fiji,1],[newCaledonia,9],[vanuatu,9],[antarctica,9]
];

function interp(tab,a){const t=Math.min(a,90)/5,i=Math.min(Math.floor(t),17);return tab[i]+(tab[i+1]-tab[i])*(t-i);}
function project(lon,lat){const a=Math.abs(lat);return {x:interp(robLen,a)*lon/180,y:Math.sign(lat)*interp(robDep,a)};}
function toPoints(flat){const p=[];for(let i=0;i<flat.length;i+=2)p.push(project(flat[i],flat[i+1]));return p;}
const lineDefaults={showLine:true,pointRadius:0,pointHoverRadius:0,tension:0,clip:false};
const datasets=[];
// ocean outline, then graticule, then land
const full=[];
[...robLat].reverse().forEach(l=>full.push(project(-180,-l)));
robLat.slice(1).forEach(l=>full.push(project(-180,l)));
[...robLat].reverse().forEach(l=>full.push(project(180,l)));
robLat.slice(1).forEach(l=>full.push(project(180,-l)));
datasets.push({...lineDefaults,label:"Ocean",data:full,fill:"shape",backgroundColor:"#ecf5fd",borderColor:"#d6e6f1",borderWidth:1.5});
parallels.forEach(l=>datasets.push({...lineDefaults,label:"Parallel",data:[project(-180,l),project(180,l)],fill:false,borderColor:"#deebf5",borderWidth:1.5}));
const gridLats=[...robLat].reverse().map(l=>-l).concat(robLat.slice(1));
meridians.forEach(m=>datasets.push({...lineDefaults,label:"Meridian",data:gridLats.map(l=>project(m,l)),fill:false,borderColor:"#deebf5",borderWidth:1.2}));
shapeClasses.forEach(([shape,c])=>datasets.push({...lineDefaults,label:legendLabels[c],data:toPoints(shape),fill:"shape",backgroundColor:classColors[c],borderColor:classBorders[c],borderWidth:c===9?2:1}));
datasets.forEach((d,i)=>d.order=datasets.length-i);

new Chart(document.getElementById("map"),{type:"scatter",data:{datasets},options:{responsive:false,animation:false,events:[],devicePixelRatio:1,layout:{padding:0},
 plugins:{legend:{display:false},tooltip:{enabled:false},title:{display:false}},
 scales:{x:{type:"linear",min:-1.01,max:1.01,display:false},y:{type:"linear",min:-1.01,max:1.01,display:false}}}});

// Legend box built from the same arrays
const lg=document.getElementById("legend");
let html='<div class="lt">Total Water Withdrawal per capita</div>';
legendLabels.forEach((t,i)=>{const y=56+i*38.4;
 html+=`<div class="sw" style="top:${y}px;background:${legendSwatches[i]}"></div><div class="ll" style="top:${y-3}px">${t}</div>`;});
html+='<div class="fn" style="top:437px">in m³/inhabitant/year</div><div class="fn" style="top:463px">Year: Latest Available</div>';
lg.innerHTML=html;
</script></body></html>
